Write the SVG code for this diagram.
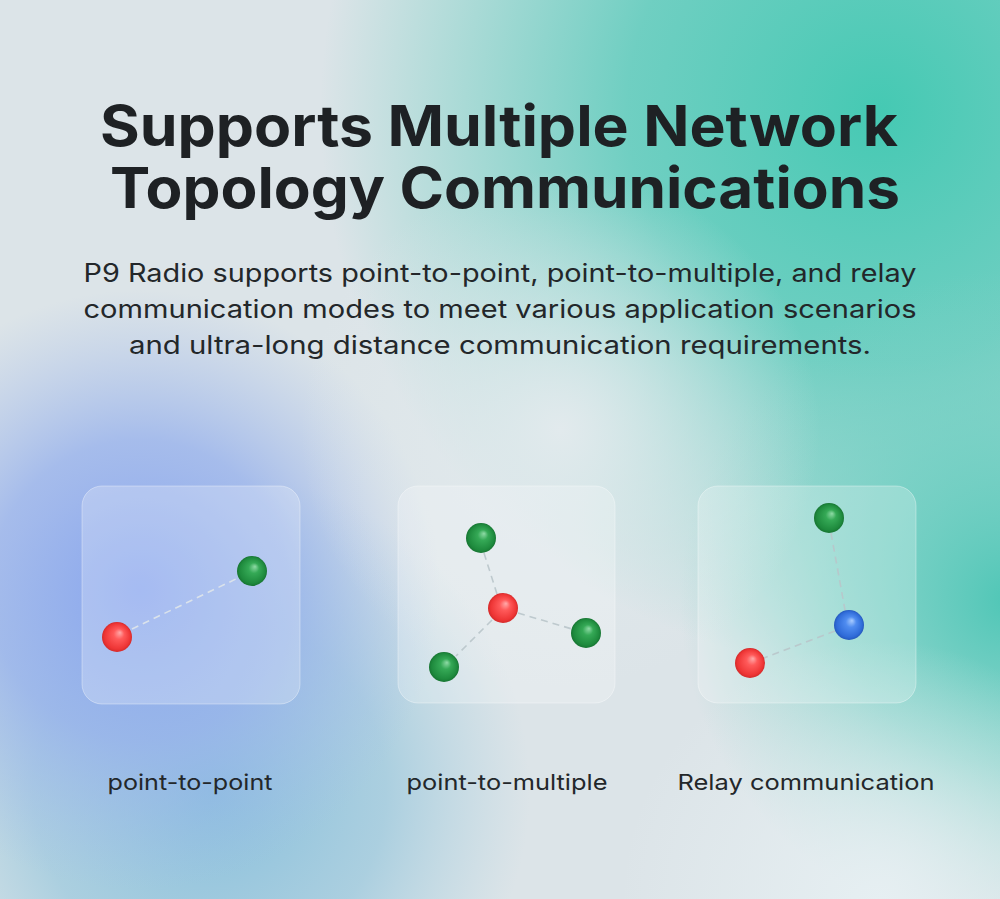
<svg xmlns="http://www.w3.org/2000/svg" width="1000" height="899" viewBox="0 0 1000 899">
  <defs>
    <radialGradient id="bgTeal" cx="880" cy="110" r="560" gradientUnits="userSpaceOnUse">
      <stop offset="0" stop-color="#45c9b3"/>
      <stop offset="0.45" stop-color="#5ccbbb" stop-opacity="0.85"/>
      <stop offset="1" stop-color="#5ccbbb" stop-opacity="0"/>
    </radialGradient>
    <radialGradient id="bgTealR" cx="1010" cy="600" r="330" gradientUnits="userSpaceOnUse">
      <stop offset="0" stop-color="#4fc6b6"/>
      <stop offset="0.5" stop-color="#6fcfc2" stop-opacity="0.7"/>
      <stop offset="1" stop-color="#7fd2c6" stop-opacity="0"/>
    </radialGradient>
    <radialGradient id="bgBlue" cx="140" cy="590" r="300" gradientUnits="userSpaceOnUse">
      <stop offset="0" stop-color="#8aa6ee"/>
      <stop offset="0.5" stop-color="#98b2ec" stop-opacity="0.8"/>
      <stop offset="1" stop-color="#a8bfea" stop-opacity="0"/>
    </radialGradient>
    <radialGradient id="bgBlueLow" cx="210" cy="790" r="320" gradientUnits="userSpaceOnUse">
      <stop offset="0" stop-color="#86bedc"/>
      <stop offset="0.55" stop-color="#96c6dc" stop-opacity="0.7"/>
      <stop offset="1" stop-color="#a6cfdf" stop-opacity="0"/>
    </radialGradient>
    <radialGradient id="bgLight" cx="560" cy="430" r="260" gradientUnits="userSpaceOnUse">
      <stop offset="0" stop-color="#e2eaed"/>
      <stop offset="1" stop-color="#e2eaed" stop-opacity="0"/>
    </radialGradient>
    <radialGradient id="bgBottom" cx="880" cy="900" r="260" gradientUnits="userSpaceOnUse">
      <stop offset="0" stop-color="#e6eff2"/>
      <stop offset="1" stop-color="#e6eff2" stop-opacity="0"/>
    </radialGradient>
    <radialGradient id="gGreen" cx="0.5" cy="0.5" r="0.5" fx="0.6" fy="0.35">
      <stop offset="0" stop-color="#8fdba6"/>
      <stop offset="0.35" stop-color="#35a956"/>
      <stop offset="0.85" stop-color="#1e8a3d"/>
      <stop offset="1" stop-color="#177532"/>
    </radialGradient>
    <radialGradient id="gRed" cx="0.5" cy="0.5" r="0.5" fx="0.6" fy="0.35">
      <stop offset="0" stop-color="#ffaaaa"/>
      <stop offset="0.35" stop-color="#ff5a5a"/>
      <stop offset="0.85" stop-color="#ee3535"/>
      <stop offset="1" stop-color="#d42a2a"/>
    </radialGradient>
    <radialGradient id="gBlue" cx="0.5" cy="0.5" r="0.5" fx="0.6" fy="0.35">
      <stop offset="0" stop-color="#a9ccff"/>
      <stop offset="0.35" stop-color="#4f8cf0"/>
      <stop offset="0.85" stop-color="#2f6bd8"/>
      <stop offset="1" stop-color="#2559bd"/>
    </radialGradient>
  </defs>
  <style>
    .title { font-family: "Inter", "Noto Sans", sans-serif; font-weight: 700; font-size: 56px; fill: #1e2124; }
    .para { font-family: "Inter", "Noto Sans", sans-serif; font-weight: 400; font-size: 25px; fill: #23272a; }
    .label { font-family: "Inter", "Noto Sans", sans-serif; font-weight: 400; font-size: 22px; fill: #23272a; }
    .panel { fill: #ffffff; fill-opacity: 0.24; stroke: #ffffff; stroke-opacity: 0.35; stroke-width: 1; }
    .link { stroke: #dfe5ea; stroke-opacity: 0.9; stroke-width: 1.6; stroke-dasharray: 7 5; fill: none; }
    .linkd { stroke: #b9c5ca; stroke-opacity: 0.9; stroke-width: 1.6; stroke-dasharray: 7 5; fill: none; }
  </style>

  <!-- background -->
  <rect x="0" y="0" width="1000" height="899" fill="#dce4e8"/>
  <rect x="0" y="0" width="1000" height="899" fill="url(#bgTeal)"/>
  <rect x="0" y="0" width="1000" height="899" fill="url(#bgTealR)"/>
  <rect x="0" y="0" width="1000" height="899" fill="url(#bgBlueLow)"/>
  <rect x="0" y="0" width="1000" height="899" fill="url(#bgBlue)"/>
  <rect x="0" y="0" width="1000" height="899" fill="url(#bgLight)"/>
  <rect x="0" y="0" width="1000" height="899" fill="url(#bgBottom)"/>

  <!-- heading -->
  <g id="heading">
    <text class="title" x="499" y="146" text-anchor="middle" textLength="798" lengthAdjust="spacingAndGlyphs">Supports Multiple Network</text>
    <text class="title" x="505" y="208" text-anchor="middle" textLength="790" lengthAdjust="spacingAndGlyphs">Topology Communications</text>
  </g>

  <g id="description">
    <text class="para" x="500" y="282" text-anchor="middle" textLength="833" lengthAdjust="spacingAndGlyphs">P9 Radio supports point-to-point, point-to-multiple, and relay</text>
    <text class="para" x="500" y="318" text-anchor="middle" textLength="833" lengthAdjust="spacingAndGlyphs">communication modes to meet various application scenarios</text>
    <text class="para" x="500" y="354" text-anchor="middle" textLength="742" lengthAdjust="spacingAndGlyphs">and ultra-long distance communication requirements.</text>
  </g>

  <!-- panels -->
  <g id="panel-p2p">
    <rect class="panel" x="82" y="486" width="218" height="218" rx="20"/>
  </g>
  <g id="panel-p2m">
    <rect class="panel" x="398" y="486" width="217" height="217" rx="20"/>
  </g>
  <g id="panel-relay">
    <rect class="panel" x="698" y="486" width="218" height="217" rx="20"/>
  </g>

  <!-- connectors -->
  <g id="connectors">
    <line class="link" x1="132" y1="629" x2="238" y2="578"/>
    <line class="linkd" x1="484" y1="553" x2="497" y2="594"/>
    <line class="linkd" x1="518" y1="613" x2="572" y2="629"/>
    <line class="linkd" x1="492" y1="620" x2="456" y2="656"/>
    <line class="linkd" x1="831" y1="533" x2="845" y2="610"/>
    <line class="linkd" x1="835" y1="631" x2="764" y2="658"/>
  </g>

  <!-- nodes -->
  <g id="node-p2p-red"><circle cx="117" cy="637" r="15" fill="url(#gRed)"/></g>
  <g id="node-p2p-green"><circle cx="252" cy="571" r="15" fill="url(#gGreen)"/></g>

  <g id="node-p2m-green1"><circle cx="481" cy="538" r="15" fill="url(#gGreen)"/></g>
  <g id="node-p2m-red"><circle cx="503" cy="608" r="15" fill="url(#gRed)"/></g>
  <g id="node-p2m-green2"><circle cx="586" cy="633" r="15" fill="url(#gGreen)"/></g>
  <g id="node-p2m-green3"><circle cx="444" cy="667" r="15" fill="url(#gGreen)"/></g>

  <g id="node-relay-green"><circle cx="829" cy="518" r="15" fill="url(#gGreen)"/></g>
  <g id="node-relay-blue"><circle cx="849" cy="625" r="15" fill="url(#gBlue)"/></g>
  <g id="node-relay-red"><circle cx="750" cy="663" r="15" fill="url(#gRed)"/></g>

  <!-- labels -->
  <g id="labels">
    <text class="label" x="190" y="790" text-anchor="middle" textLength="165" lengthAdjust="spacingAndGlyphs">point-to-point</text>
    <text class="label" x="507" y="790" text-anchor="middle" textLength="201" lengthAdjust="spacingAndGlyphs">point-to-multiple</text>
    <text class="label" x="806" y="790" text-anchor="middle" textLength="257" lengthAdjust="spacingAndGlyphs">Relay communication</text>
  </g>
</svg>
